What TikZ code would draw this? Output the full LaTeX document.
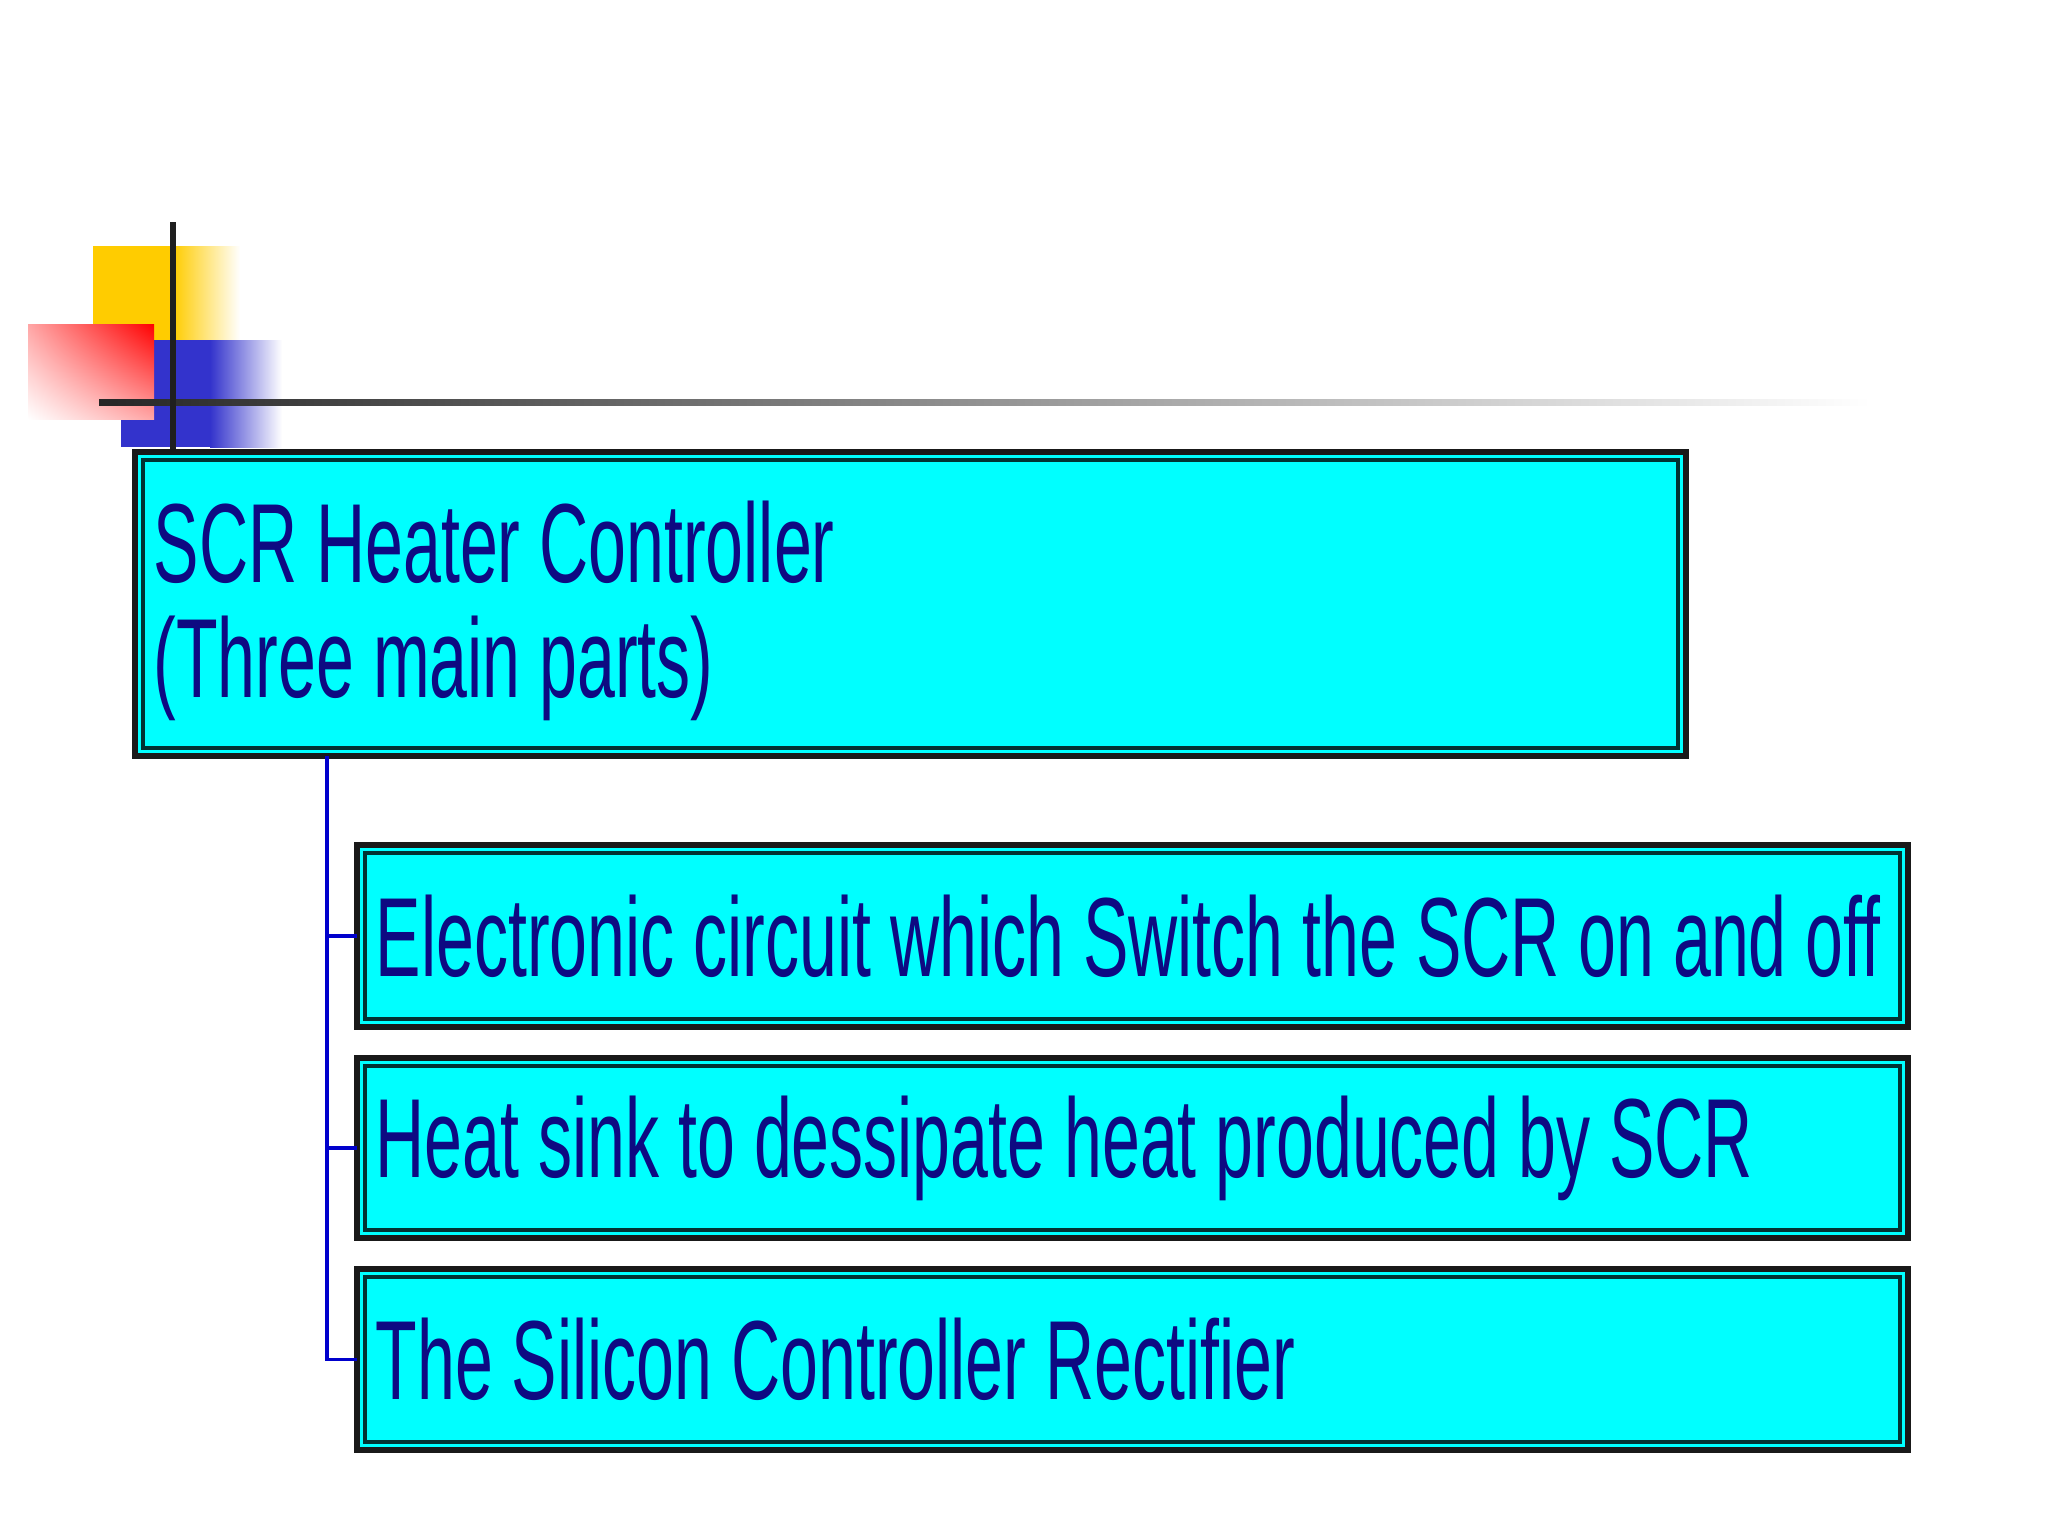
\documentclass[tikz,border=0pt]{standalone}
\usepackage{fontspec}
\usetikzlibrary{shadings}
\setmainfont[FakeStretch=0.605]{Liberation Sans}
\definecolor{navyt}{HTML}{0E0A82}
\definecolor{cy}{HTML}{00FFFF}
\definecolor{yel}{HTML}{FFCC00}
\definecolor{blu}{HTML}{3333CC}
\begin{document}
\begin{tikzpicture}[x=0.01cm,y=-0.01cm,
  boxo/.style={draw=black!90,line width=1.7pt,fill=cy},
  boxi/.style={draw=black!80!cy,line width=1pt},
  lbl/.style={anchor=west,text=navyt,font=\fontsize{32}{36}\selectfont,inner sep=0pt},
  conn/.style={draw=blue!80!black,line width=0.9pt}]
\useasboundingbox (0,0) rectangle (2048,1536);
% decoration
\fill[yel] (93,246) rectangle (173,340);
\shade[left color=yel,right color=white] (173,246) rectangle (240,340);
\fill[blu] (121,340) rectangle (210,447);
\shade[left color=blu,right color=white] (210,340) rectangle (282,447);
\shade[upper right=red,upper left=red!35,lower right=red!35,lower left=white] (28,324) rectangle (154,419);
\shade[left color=black!85,middle color=black!45,right color=white] (99,399) rectangle (1870,405);
\fill[black!88] (170,222) rectangle (176,450);
% boxes
\path[boxo] (135,452) rectangle (1686,756);
\path[boxi] (143,460) rectangle (1678,748);
\node[lbl] (m1) at (153,542) {SCR Heater Controller};
\node[lbl] (m2) at (153,668) {(Three main parts)};
\coordinate (top) at (327,756);
\foreach \n/\a/\b in {c1/845/1027,c2/1058/1238,c3/1269/1450}{
  \path[boxo] (357,\a) rectangle (1908,\b);
  \path[boxi] (365,\a+8) rectangle (1900,\b-8);
  \coordinate (\n) at (357,{(\a+\b)/2});
  \coordinate (\n s) at (327,{(\a+\b)/2});
}
\node[lbl] (t1) at (375,936) {Electronic circuit which Switch the SCR on and off};
\node[lbl] (t2) at (375,1148) {Heat sink to dessipate heat produced by SCR};
\node[lbl] (t3) at (375,1359) {The Silicon Controller Rectifier};
\draw[conn] (top) -- (c3s) -- (c3);
\draw[conn] (c1s) -- (c1);
\draw[conn] (c2s) -- (c2);
\end{tikzpicture}
\end{document}
